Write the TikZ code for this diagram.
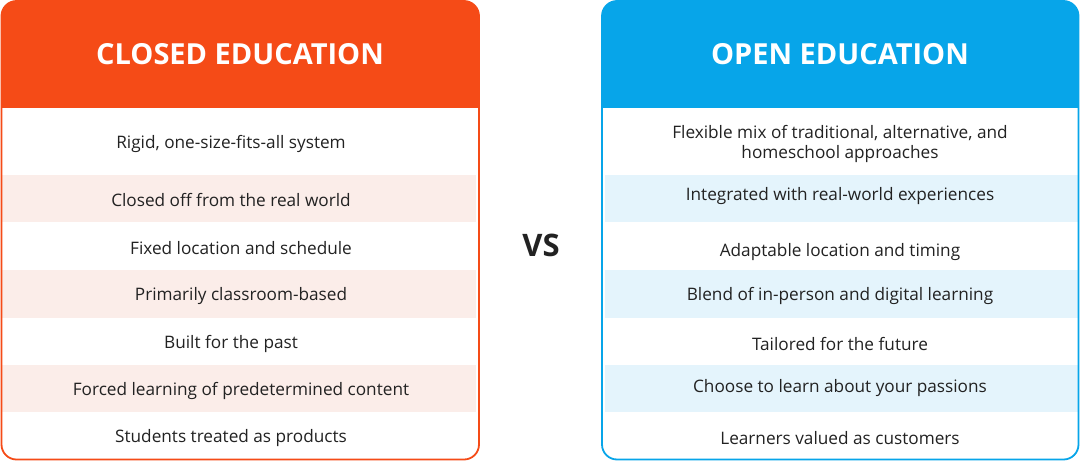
\documentclass[tikz,border=0pt]{standalone}
\usepackage{fontspec}
\setmainfont{Open Sans}
\definecolor{orng}{HTML}{F54B17}
\definecolor{blu}{HTML}{07A5E9}
\definecolor{pinkrow}{HTML}{FBEDE9}
\definecolor{bluerow}{HTML}{E4F4FC}
\definecolor{txt}{HTML}{222222}
\begin{document}
\begin{tikzpicture}[x=1pt,y=-1pt,
  rowtext/.style={font=\fontsize{17.2}{20}\selectfont,text=txt,align=center},
  headtext/.style={font=\fontsize{29}{32}\selectfont\bfseries,text=white}]
\useasboundingbox (0,0) rectangle (1080,461);
% left card
\fill[white,rounded corners=15pt] (1.5,1) rectangle (479,459.5);
\begin{scope}
\clip[rounded corners=15pt] (1.5,1) rectangle (479,459.5);
\fill[orng] (0,0) rectangle (480,108);
\foreach \a/\b in {175/222,270/318,365/412} \fill[pinkrow] (2,\a) rectangle (476,\b);
\end{scope}
\draw[orng,line width=1.8pt,rounded corners=15pt] (1.5,1) rectangle (479,459.5);
% right card
\fill[white,rounded corners=15pt] (602,1) rectangle (1078.5,459.5);
\begin{scope}
\clip[rounded corners=15pt] (602,1) rectangle (1078.5,459.5);
\fill[blu] (600,0) rectangle (1080,108);
\foreach \a/\b in {175/222,270/318,365/412} \fill[bluerow] (605,\a) rectangle (1078,\b);
\end{scope}
\draw[blu,line width=1.8pt,rounded corners=15pt] (602,1) rectangle (1078.5,459.5);
\node[headtext] (lh) at (240,54) {CLOSED EDUCATION};
\node[headtext] (rh) at (840,54) {OPEN EDUCATION};
\node[font=\fontsize{31}{34}\selectfont\bfseries,text=txt] (vs) at (541,245) {VS};
\node[rowtext] (l1) at (231,144) {Rigid, one-size-fits-all system};
\node[rowtext] (l2) at (231,200) {Closed off from the real world};
\node[rowtext] (l3) at (241,248) {Fixed location and schedule};
\node[rowtext] (l4) at (241,296) {Primarily classroom-based};
\node[rowtext] (l5) at (231,344) {Built for the past};
\node[rowtext] (l6) at (241,391) {Forced learning of predetermined content};
\node[rowtext] (l7) at (231,438) {Students treated as products};
\node[rowtext] (r1) at (840,144) {Flexible mix of traditional, alternative, and\\homeschool approaches};
\node[rowtext] (r2) at (840,196) {Integrated with real-world experiences};
\node[rowtext] (r3) at (840,252) {Adaptable location and timing};
\node[rowtext] (r4) at (840,296) {Blend of in-person and digital learning};
\node[rowtext] (r5) at (840,344) {Tailored for the future};
\node[rowtext] (r6) at (840,388) {Choose to learn about your passions};
\node[rowtext] (r7) at (840,438) {Learners valued as customers};
\end{tikzpicture}
\end{document}
